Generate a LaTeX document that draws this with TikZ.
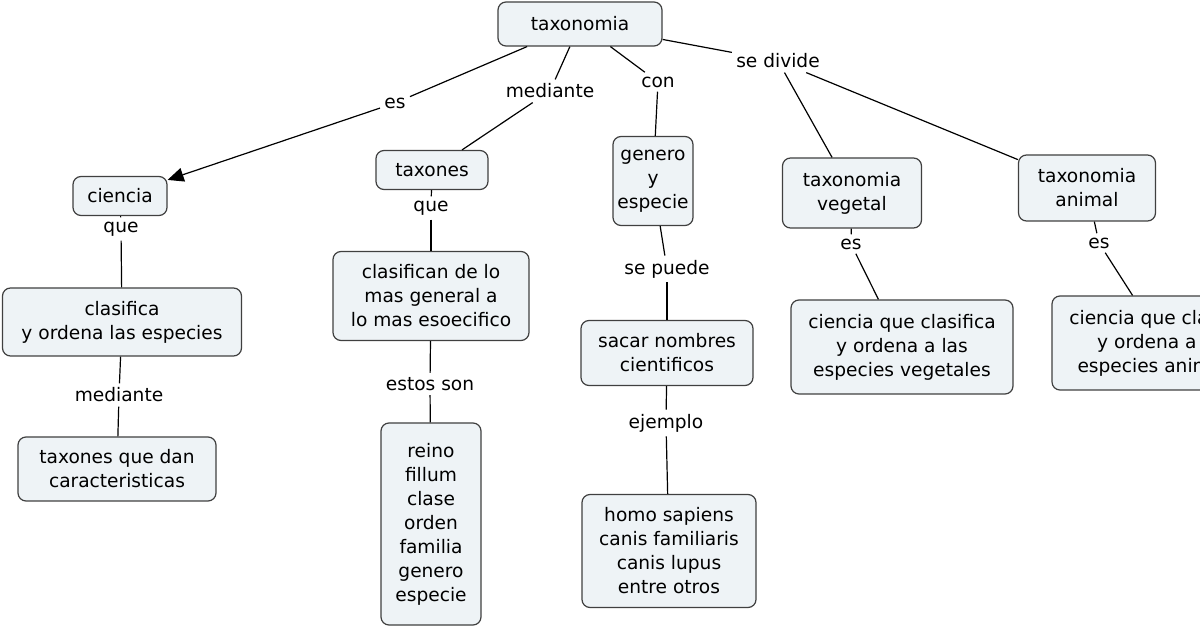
\documentclass[tikz,border=0pt]{standalone}
\usepackage{fontspec}
\setmainfont{DejaVu Sans}
\usetikzlibrary{arrows.meta}
\begin{document}
\begin{tikzpicture}[x=0.5pt,y=-0.5pt,
  concept/.style={draw=black!75,fill=cbox,rounded corners=4pt,line width=0.6pt,align=center,
    font=\fontsize{9.3}{12}\selectfont,inner sep=0pt},
  lab/.style={font=\fontsize{9.3}{12}\selectfont,inner sep=2pt,fill=white},
  ln/.style={line width=0.6pt,black}]
\definecolor{cbox}{HTML}{EEF3F6}
\useasboundingbox (0,0) rectangle (1200,630);
\begin{scope}
\clip (0,0) rectangle (1200,630);
\node[concept,minimum width=82pt,minimum height=22pt] (tax) at (580,24) {taxonomia};
\node[concept,minimum width=47pt,minimum height=19.5pt] (cie) at (120,196) {ciencia};
\node[concept,minimum width=56pt,minimum height=19.5pt] (txs) at (432,170) {taxones};
\node[concept,minimum width=40pt,minimum height=44.5pt] (gen) at (653,181) {genero\\y\\especie};
\node[concept,minimum width=69.5pt,minimum height=35pt] (tv) at (852,193) {taxonomia\\vegetal};
\node[concept,minimum width=68.5pt,minimum height=33pt] (ta) at (1087,188) {taxonomia\\animal};
\node[concept,minimum width=119.5pt,minimum height=34pt] (cla) at (122,322) {clasifica\\y ordena las especies};
\node[concept,minimum width=98pt,minimum height=44.5pt] (clg) at (431,296) {clasifican de lo\\mas general a\\lo mas esoecifico};
\node[concept,minimum width=86pt,minimum height=32.5pt] (sac) at (667,353) {sacar nombres\\cientificos};
\node[concept,minimum width=111pt,minimum height=47pt] (cv) at (902,347) {ciencia que clasifica\\y ordena a las\\especies vegetales};
\node[concept,minimum width=111pt,minimum height=47pt] (ca) at (1163,343) {ciencia que clasifica\\y ordena a las\\especies animales};
\node[concept,minimum width=99pt,minimum height=32pt] (tqd) at (117,469) {taxones que dan\\caracteristicas};
\node[concept,minimum width=50pt,minimum height=101pt] (rei) at (431,524) {reino\\fillum\\clase\\orden\\familia\\genero\\especie};
\node[concept,minimum width=87pt,minimum height=56.5pt] (hom) at (669,551) {homo sapiens\\canis familiaris\\canis lupus\\entre otros};
\end{scope}
\node[lab] (l1) at (395,103) {es};
\node[lab] (l2) at (550,91) {mediante};
\node[lab] (l3) at (658,82) {con};
\node[lab] (l4) at (778,61) {se divide};
\node[lab] (l5) at (121,229) {que};
\node[lab] (l6) at (431,208) {que};
\node[lab] (l7) at (667,269) {se puede};
\node[lab] (l8) at (851,244) {es};
\node[lab] (l9) at (1099,243) {es};
\node[lab] (l10) at (119,395) {mediante};
\node[lab] (l11) at (430,384) {estos son};
\node[lab] (l12) at (666,423) {ejemplo};
\draw[ln] (tax) -- (l1);
\draw[ln,-{Triangle[length=8pt,width=7pt]}] (l1) -- (cie);
\draw[ln] (tax) -- (l2); \draw[ln] (l2) -- (txs);
\draw[ln] (tax) -- (l3); \draw[ln] (l3) -- (gen);
\draw[ln] (tax) -- (l4); \draw[ln] (l4) -- (tv); \draw[ln] (l4) -- (ta);
\draw[ln] (cie) -- (l5); \draw[ln] (l5) -- (cla);
\draw[ln] (txs) -- (l6); \draw[ln] (l6) -- (clg);
\draw[ln] (gen) -- (l7); \draw[ln] (l7) -- (sac);
\draw[ln] (tv) -- (l8); \draw[ln] (l8) -- (cv);
\draw[ln] (ta) -- (l9); \draw[ln] (l9) -- (ca);
\draw[ln] (cla) -- (l10); \draw[ln] (l10) -- (tqd);
\draw[ln] (clg) -- (l11); \draw[ln] (l11) -- (rei);
\draw[ln] (sac) -- (l12); \draw[ln] (l12) -- (hom);
\end{tikzpicture}
\end{document}
